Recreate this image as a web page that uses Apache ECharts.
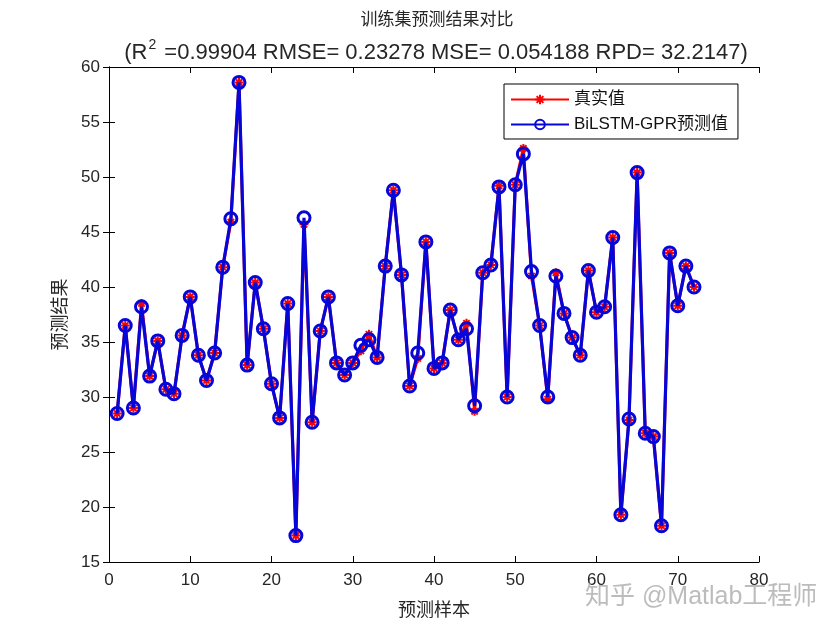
<!DOCTYPE html>
<html>
<head>
<meta charset="utf-8">
<script src="https://cdn.jsdelivr.net/npm/echarts@6/dist/echarts.min.js"></script>
<style>html,body{margin:0;padding:0;background:#fff}#c{width:840px;height:630px}</style>
</head>
<body>
<div id="c"></div>
<script>
var sampleIdx = [];
for (var i = 1; i <= 72; i++) sampleIdx.push(i);

var trueValues = [
  28.5, 36.5, 29.0, 38.5, 31.9, 35.1, 30.7, 30.3, 35.6, 39.1,
  33.8, 31.5, 34.0, 41.8, 45.9, 58.6, 32.9, 40.4, 36.2, 31.2,
  28.1, 38.5, 17.4, 45.7, 27.7, 36.0, 39.1, 33.1, 32.0, 33.1,
  34.2, 35.7, 33.6, 41.9, 48.8, 41.1, 31.0, 33.5, 44.1, 32.6,
  33.1, 37.9, 35.2, 36.7, 28.7, 41.3, 42.0, 49.2, 30.0, 49.3,
  52.6, 41.0, 36.5, 29.8, 41.3, 37.6, 35.4, 33.8, 41.5, 37.7,
  38.2, 44.5, 19.3, 27.9, 50.4, 26.7, 26.4, 18.3, 43.1, 38.3,
  41.9, 40.0
];
var predValues = [
  28.5, 36.5, 29.0, 38.2, 31.9, 35.1, 30.7, 30.3, 35.6, 39.1,
  33.8, 31.5, 34.0, 41.8, 46.2, 58.6, 32.9, 40.4, 36.2, 31.2,
  28.1, 38.5, 17.4, 46.3, 27.7, 36.0, 39.1, 33.1, 32.0, 33.1,
  34.7, 35.2, 33.6, 41.9, 48.8, 41.1, 31.0, 34.0, 44.1, 32.6,
  33.1, 37.9, 35.2, 36.2, 29.2, 41.3, 42.0, 49.1, 30.0, 49.3,
  52.1, 41.4, 36.5, 30.0, 41.0, 37.6, 35.4, 33.8, 41.5, 37.7,
  38.2, 44.5, 19.3, 28.0, 50.4, 26.7, 26.4, 18.3, 43.1, 38.3,
  41.9, 40.0
];
var seriesNames = ['真实值', 'BiLSTM-GPR预测值'];
var titleText = '训练集预测结果对比';
var xName = '预测样本';
var yName = '预测结果';

function pairs(vals) { return vals.map(function (v, i) { return [sampleIdx[i], v]; }); }

var FONT = "'Liberation Sans', 'Noto Sans CJK SC', sans-serif";
var TXT = '#262626';
var chart = echarts.init(document.getElementById('c'), null, { renderer: 'canvas' });

var asterisk = 'path://M5,0 L5,10 M0,5 L10,5 M1.5,1.5 L8.5,8.5 M1.5,8.5 L8.5,1.5';

var hiddenAxisCommon = {
  axisLabel: { show: false },
  axisTick: { show: true, inside: true, length: 6, lineStyle: { color: '#000' } },
  axisLine: { show: true, lineStyle: { color: '#000', width: 1 } },
  splitLine: { show: false }
};

chart.setOption({
  backgroundColor: '#fff',
  animation: false,
  title: [
    { text: titleText, left: 432, top: 7, textAlign: 'center',
      textStyle: { fontFamily: FONT, fontSize: 17, fontWeight: 'normal', color: TXT } },
    { text: '{a|(R}{s|2}{a| =0.99904 RMSE= 0.23278 MSE= 0.054188 RPD= 32.2147)}',
      left: 431, top: 33, textAlign: 'center',
      textStyle: { fontWeight: 'normal', rich: {
        a: { fontFamily: FONT, fontSize: 22, fontWeight: 'normal', color: TXT, lineHeight: 26, verticalAlign: 'bottom' },
        s: { fontFamily: FONT, fontSize: 14, fontWeight: 'normal', color: TXT, lineHeight: 26, verticalAlign: 'top', padding: [0, 2, 10, 1] }
      } } }
  ],
  grid: { left: 109, right: 81, top: 67, bottom: 68, containLabel: false },
  legend: {
    orient: 'vertical', left: 504, top: 84,
    width: 239,
    padding: [7, 10, 6, 6],
    itemGap: 8,
    itemWidth: 58, itemHeight: 12,
    borderColor: '#000', borderWidth: 1, backgroundColor: '#fff',
    textStyle: { fontFamily: FONT, fontSize: 17, color: '#111' },
    data: seriesNames
  },
  xAxis: [
    { type: 'value', min: 0, max: 80, interval: 10, position: 'bottom',
      name: xName, nameLocation: 'middle', nameGap: 40,
      nameTextStyle: { fontFamily: FONT, fontSize: 18, color: TXT },
      axisLabel: { fontFamily: FONT, fontSize: 17, color: TXT, margin: 10 },
      axisTick: { inside: true, length: 6, lineStyle: { color: '#000' } },
      axisLine: { show: true, onZero: false, lineStyle: { color: '#000', width: 1 } },
      splitLine: { show: false } },
    Object.assign({ type: 'value', min: 0, max: 80, interval: 10, position: 'top' }, hiddenAxisCommon)
  ],
  yAxis: [
    { type: 'value', min: 15, max: 60, interval: 5, position: 'left',
      name: yName, nameLocation: 'middle', nameGap: 37, nameRotate: 90,
      nameTextStyle: { fontFamily: FONT, fontSize: 18, color: TXT },
      axisLabel: { fontFamily: FONT, fontSize: 17, color: TXT, margin: 9 },
      axisTick: { inside: true, length: 6, lineStyle: { color: '#000' } },
      axisLine: { show: true, onZero: false, lineStyle: { color: '#000', width: 1 } },
      splitLine: { show: false } },
    Object.assign({ type: 'value', min: 15, max: 60, interval: 5, position: 'right' }, hiddenAxisCommon)
  ],
  series: [
    { name: seriesNames[0], type: 'line', data: pairs(trueValues),
      xAxisIndex: 0, yAxisIndex: 0,
      symbol: asterisk, symbolSize: 9, showAllSymbol: true,
      lineStyle: { color: '#ff0000', width: 3 },
      itemStyle: { color: 'rgba(0,0,0,0)', borderColor: '#ff0000', borderWidth: 2 },
      z: 2 },
    { name: seriesNames[1], type: 'line', data: pairs(predValues),
      xAxisIndex: 0, yAxisIndex: 0,
      symbol: 'circle', symbolSize: 12, showAllSymbol: true,
      lineStyle: { color: '#0606d8', width: 3.2 },
      itemStyle: { color: 'rgba(0,0,0,0)', borderColor: '#0606d8', borderWidth: 3 },
      z: 3 }
  ],
  graphic: [
    { type: 'text', left: 585, top: 585, z: 100,
      style: { text: '知乎 @Matlab工程师', fontFamily: FONT, fontSize: 25,
        fill: 'rgba(160,160,160,0.7)' } }
  ]
});
</script>
</body>
</html>
